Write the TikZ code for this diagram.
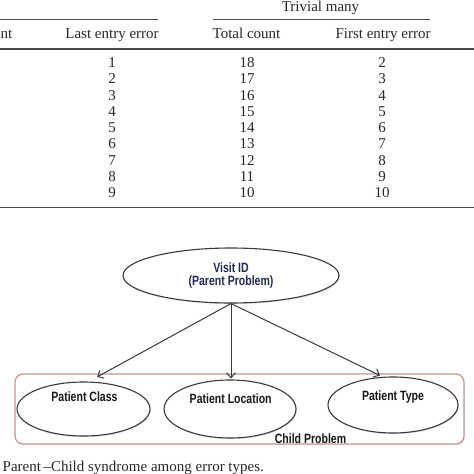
\documentclass[tikz,border=0pt]{standalone}
\usepackage{fontspec}
\setmainfont{Liberation Serif}
\newfontfamily\dfont[FakeStretch=0.78]{Liberation Sans}
\usetikzlibrary{arrows.meta,shapes.geometric,shadows}
\definecolor{rulegray}{HTML}{4A4A4A}
\definecolor{navy}{HTML}{1F2A56}
\definecolor{boxred}{HTML}{C99494}
\definecolor{edgegray}{HTML}{3A3A3A}
\tikzset{
  tabtext/.style={font=\fontsize{15}{18}\selectfont, anchor=base, inner sep=0, text=black!85},
  dtext/.style={font=\dfont\bfseries\fontsize{13.5}{16}\selectfont, anchor=base, inner sep=0, text=black!90},
  bubble/.style={ellipse, draw=edgegray, line width=1.1pt, inner sep=0, fill=white,
    drop shadow={shadow xshift=0.8pt, shadow yshift=-1.2pt, opacity=0.22}},
  rulethin/.style={draw=rulegray, line width=1pt},
  link/.style={draw=edgegray, line width=1pt, -{Straight Barb[length=5pt,width=9pt]}}
}
\begin{document}
\begin{tikzpicture}[x=1pt,y=-1pt]
\useasboundingbox (0,0) rectangle (474,474);
% ---------- table ----------
\node[tabtext] (tm) at (320.5,11) {Trivial many};
\coordinate (r1a) at (0,19.5);   \coordinate (r1b) at (158,19.5);
\coordinate (r2a) at (213,19.5); \coordinate (r2b) at (430,19.5);
\draw[rulethin] (r1a) -- (r1b);
\draw[rulethin] (r2a) -- (r2b);
\node[tabtext, anchor=base west] (h0) at (0.5,38) {nt};
\node[tabtext] (h1) at (112,38) {Last entry error};
\node[tabtext] (h2) at (246.5,38) {Total count};
\node[tabtext] (h3) at (383,38) {First entry error};
\coordinate (r3a) at (0,49); \coordinate (r3b) at (474,49);
\draw[draw=rulegray, line width=1.4pt] (r3a) -- (r3b);
\foreach \i/\a/\b/\c in {1/1/18/2, 2/2/17/3, 3/3/16/4, 4/4/15/5, 5/5/14/6, 6/6/13/7, 7/7/12/8, 8/8/11/9, 9/9/10/10}{
  \node[tabtext] (ca\i) at (112,{67.7+16.25*(\i-1)}) {\a};
  \node[tabtext] (cb\i) at (247,{67.7+16.25*(\i-1)}) {\b};
  \node[tabtext] (cc\i) at (382,{67.7+16.25*(\i-1)}) {\c};
}
\coordinate (r4a) at (0,207.5); \coordinate (r4b) at (474,207.5);
\draw[draw=rulegray, line width=1.8pt] (r4a) -- (r4b);
% ---------- diagram ----------
\node[draw=boxred, line width=1.2pt, rounded corners=8pt, fill=white,
      minimum width=449pt, minimum height=70pt, inner sep=0,
      drop shadow={shadow xshift=0.8pt, shadow yshift=-1.2pt, opacity=0.18}] (childbox) at (239.5,409) {};
\node[bubble, minimum width=216pt, minimum height=55pt] (parent) at (231,275.5) {};
\node[dtext, text=navy] (vid) at (231,272) {Visit ID};
\node[dtext, text=navy] (pp) at (231,285) {(Parent Problem)};
\node[bubble, minimum width=133pt, minimum height=54pt] (pc) at (83.5,409) {};
\node[bubble, minimum width=132pt, minimum height=58pt] (pl) at (230,409) {};
\node[bubble, minimum width=130pt, minimum height=56pt] (pt) at (393,405) {};
\node[dtext] (pctext) at (84.5,401) {Patient Class};
\node[dtext] (pltext) at (230.7,403) {Patient Location};
\node[dtext] (pttext) at (393,400) {Patient Type};
\node[dtext] (cptext) at (310.5,443) {Child Problem};
\coordinate (e1) at (97,377);
\coordinate (e2) at (231,378.5);
\coordinate (e3) at (380,375.5);
\draw[link] (parent.south) -- (e1);
\draw[link] (parent.south) -- (e2);
\draw[link] (parent.south) -- (e3);
% ---------- caption ----------
\node[tabtext, anchor=base west] (cap) at (2.5,471) {Parent\,–Child syndrome among error types.};
\end{tikzpicture}
\end{document}
